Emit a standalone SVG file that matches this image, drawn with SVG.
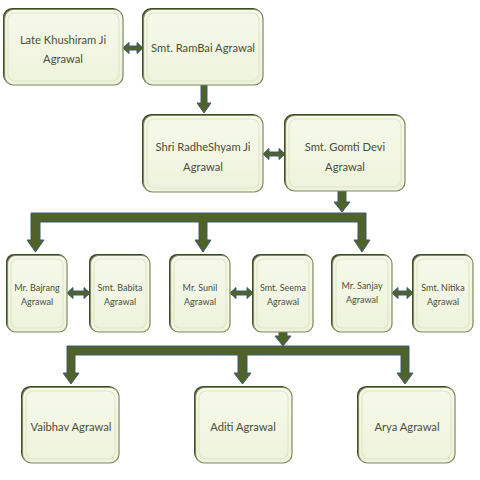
<svg xmlns="http://www.w3.org/2000/svg" width="480" height="480" viewBox="0 0 480 480">
<defs>
<linearGradient id="g" x1="0" y1="0" x2="0" y2="1">
<stop offset="0" stop-color="#f6f9ea"/>
<stop offset="1" stop-color="#eef3dc"/>
</linearGradient>
</defs>
<style>
.sh{fill:#3e4a26;}
.box{fill:url(#g);stroke:#7d8a5c;stroke-width:1.2;}
.in{fill:none;stroke:#dfe6c9;stroke-width:1.2;}
.t{font-family:"Lato","Liberation Sans",sans-serif;fill:#4a4e3a;text-anchor:middle;}
.l{font-size:11.2px;}
.s{font-size:9px;}
.c{fill:#4f6228;stroke:#3f5b78;stroke-width:1;stroke-linejoin:miter;}
</style>
<rect width="480" height="480" fill="#ffffff"/>

<g id="connectors">
<polygon class="c" points="123,48 129,42.5 129,46 137,46 137,42.5 143,48 137,53.5 137,50 129,50 129,53.5"/>
<polygon class="c" points="201,85 207,85 207,103 211,103 204,113 197,103 201,103"/>
<polygon class="c" points="263,154 269,148.5 269,152 279,152 279,148.5 285,154 279,159.5 279,156 269,156 269,159.5"/>
<polygon class="c" points="338,191 346,191 346,202 350,202 342,212 334,202 338,202"/>
<polygon class="c" points="31,213 366,213 366,240 370,240 362,252 354,240 358,240 358,222 207,222 207,240 211,240 203,252 195,240 199,240 199,222 40,222 40,240 44,240 35.5,252 27,240 31,240"/>
<polygon class="c" points="67,293 73,287.5 73,291 84,291 84,287.5 90,293 84,298.5 84,295 73,295 73,298.5"/>
<polygon class="c" points="230,293 236,287.5 236,291 247,291 247,287.5 253,293 247,298.5 247,295 236,295 236,298.5"/>
<polygon class="c" points="392,293 398,287.5 398,291 407,291 407,287.5 413,293 407,298.5 407,295 398,295 398,298.5"/>
<polygon class="c" points="279,331 287,331 287,336 291,336 283,346 275,336 279,336"/>
<polygon class="c" points="67,346 409,346 409,373 413,373 405,384 397,373 401,373 401,355 247,355 247,373 251,373 242.5,384 234,373 238,373 238,355 75,355 75,373 79,373 71,384 63,373 67,373"/>
</g>

<g id="n1"><rect class="sh" x="3" y="8" width="119" height="76" rx="9"/><rect class="box" x="4.5" y="9.5" width="118.5" height="75.5" rx="9"/><rect class="in" x="8" y="13" width="111" height="68" rx="7"/>
<text class="t l" x="63" y="44">Late Khushiram Ji</text><text class="t l" x="63" y="63">Agrawal</text></g>
<g id="n2"><rect class="sh" x="142" y="8" width="120" height="76" rx="9"/><rect class="box" x="143.5" y="9.5" width="119.5" height="75.5" rx="9"/><rect class="in" x="147" y="13" width="112" height="68" rx="7"/>
<text class="t l" x="203" y="52">Smt. RamBai Agrawal</text></g>
<g id="n3"><rect class="sh" x="142" y="114" width="120" height="77" rx="9"/><rect class="box" x="143.5" y="115.5" width="119.5" height="76.5" rx="9"/><rect class="in" x="147" y="119" width="112" height="69" rx="7"/>
<text class="t l" x="203" y="151">Shri RadheShyam Ji</text><text class="t l" x="203" y="171">Agrawal</text></g>
<g id="n4"><rect class="sh" x="284" y="114" width="120" height="76" rx="9"/><rect class="box" x="285.5" y="115.5" width="119.5" height="75.5" rx="9"/><rect class="in" x="289" y="119" width="112" height="68" rx="7"/>
<text class="t l" x="345" y="151">Smt. Gomti Devi</text><text class="t l" x="345" y="171">Agrawal</text></g>

<g id="n5"><rect class="sh" x="6" y="254" width="60" height="77" rx="8"/><rect class="box" x="7.5" y="255.5" width="59.5" height="76.5" rx="8"/><rect class="in" x="11" y="259" width="52" height="69" rx="6"/>
<text class="t s" x="37" y="291">Mr. Bajrang</text><text class="t s" x="37" y="305">Agrawal</text></g>
<g id="n6"><rect class="sh" x="89" y="254" width="60" height="77" rx="8"/><rect class="box" x="90.5" y="255.5" width="59.5" height="76.5" rx="8"/><rect class="in" x="94" y="259" width="52" height="69" rx="6"/>
<text class="t s" x="120" y="291">Smt. Babita</text><text class="t s" x="120" y="305">Agrawal</text></g>
<g id="n7"><rect class="sh" x="169" y="254" width="60" height="77" rx="8"/><rect class="box" x="170.5" y="255.5" width="59.5" height="76.5" rx="8"/><rect class="in" x="174" y="259" width="52" height="69" rx="6"/>
<text class="t s" x="200" y="291">Mr. Sunil</text><text class="t s" x="200" y="305">Agrawal</text></g>
<g id="n8"><rect class="sh" x="252" y="254" width="60" height="77" rx="8"/><rect class="box" x="253.5" y="255.5" width="59.5" height="76.5" rx="8"/><rect class="in" x="257" y="259" width="52" height="69" rx="6"/>
<text class="t s" x="283" y="291">Smt. Seema</text><text class="t s" x="283" y="305">Agrawal</text></g>
<g id="n9"><rect class="sh" x="331" y="254" width="60" height="77" rx="8"/><rect class="box" x="332.5" y="255.5" width="59.5" height="76.5" rx="8"/><rect class="in" x="336" y="259" width="52" height="69" rx="6"/>
<text class="t s" x="362" y="289">Mr. Sanjay</text><text class="t s" x="362" y="303">Agrawal</text></g>
<g id="n10"><rect class="sh" x="412" y="254" width="60" height="77" rx="8"/><rect class="box" x="413.5" y="255.5" width="59.5" height="76.5" rx="8"/><rect class="in" x="417" y="259" width="52" height="69" rx="6"/>
<text class="t s" x="443" y="291">Smt. Nitika</text><text class="t s" x="443" y="305">Agrawal</text></g>

<g id="n11"><rect class="sh" x="21" y="386" width="97" height="76" rx="9"/><rect class="box" x="22.5" y="387.5" width="96.5" height="75.5" rx="9"/><rect class="in" x="26" y="391" width="89" height="68" rx="7"/>
<text class="t l" x="71" y="431">Vaibhav Agrawal</text></g>
<g id="n12"><rect class="sh" x="194" y="386" width="97" height="76" rx="9"/><rect class="box" x="195.5" y="387.5" width="96.5" height="75.5" rx="9"/><rect class="in" x="199" y="391" width="89" height="68" rx="7"/>
<text class="t l" x="243" y="431">Aditi Agrawal</text></g>
<g id="n13"><rect class="sh" x="357" y="386" width="97" height="76" rx="9"/><rect class="box" x="358.5" y="387.5" width="96.5" height="75.5" rx="9"/><rect class="in" x="362" y="391" width="89" height="68" rx="7"/>
<text class="t l" x="407" y="431">Arya Agrawal</text></g>
</svg>
